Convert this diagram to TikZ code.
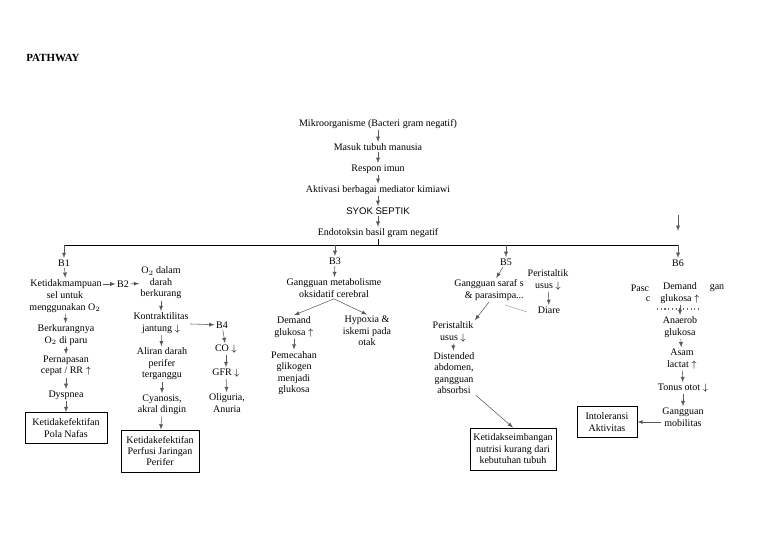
\documentclass[tikz,border=0pt]{standalone}
\usepackage{fontspec}
\setmainfont{Liberation Serif}
\newfontfamily\sansfont{Liberation Sans}
\usetikzlibrary{positioning}
\usetikzlibrary{calc}

\begin{document}
\begin{tikzpicture}[x=0.75pt,y=-0.75pt,font={\fontsize{7.5}{8.6}\selectfont},node distance=1cm]

	\tikzstyle{arrow}=[-latex,black!65,line width=0.4pt];
	\tikzstyle{plain}=[draw=black!35,line width=0.4pt];
	\tikzstyle{txt}=[align=center,inner sep=1pt];
	\tikzstyle{box}=[draw,align=center,inner sep=2pt,line width=0.6pt];

	\useasboundingbox (0,0) rectangle (768,543);

	\node (1) [txt,font={\fontsize{8.2}{10}\selectfont\bfseries}] at (53,58) {PATHWAY};

	% top chain
	\node (2) [txt] at (378,124) {Mikroorganisme (Bacteri gram negatif)};
	\node (3) [txt] at (378,147) {Masuk tubuh manusia};
	\node (4) [txt] at (378,169) {Respon imun};
	\node (5) [txt] at (378,190) {Aktivasi berbagai mediator kimiawi};
	\node (6) [txt,font={\sansfont\fontsize{7.2}{8.6}\selectfont}] at (378,211) {SYOK SEPTIK};
	\node (7) [txt] at (378,233) {Endotoksin basil gram negatif};

	\coordinate (h0) at (378,245);
	\coordinate (h1) at (64,245);
	\coordinate (h3) at (335,245);
	\coordinate (h5) at (506,245);
	\coordinate (h6) at (678,245);
	\coordinate (d1) at (678,215);
	\coordinate (d2) at (678,231);

	% B1
	\node (8) [txt] at (64,263) {B1};
	\node (9) [txt] at (66,284) {Ketidakmampuan};
	\node (10) [txt] at (65,302) {sel untuk\\menggunakan O$_2$};
	\node (11) [txt] at (66,335) {Berkurangnya\\O$_2$ di paru};
	\node (12) [txt] at (66,366) {Pernapasan\\cepat / RR $\uparrow$};
	\node (13) [txt] at (66,395) {Dyspnea};
	\node (14) [box,minimum width=61.5pt,minimum height=23pt] at (66,428) {Ketidakefektifan\\Pola Nafas};

	% B2
	\node (15) [txt] at (123,284) {B2};
	\node (16) [txt] at (161,283) {O$_2$ dalam\\darah\\berkurang};
	\node (17) [txt] at (161,323) {Kontraktilitas\\jantung $\downarrow$};
	\node (18) [txt] at (162,364) {Aliran darah\\perifer\\terganggu};
	\node (19) [txt] at (162,405) {Cyanosis,\\akral dingin};
	\node (20) [box,minimum width=58.5pt,minimum height=31.5pt] at (160,451) {Ketidakefektifan\\Perfusi Jaringan\\Perifer};

	% B4
	\node (21) [txt] at (222,325) {B4};
	\node (22) [txt] at (226,349) {CO $\downarrow$};
	\node (23) [txt] at (226,373) {GFR $\downarrow$};
	\node (24) [txt] at (227,403) {Oliguria,\\Anuria};

	% B3
	\node (25) [txt] at (335,261) {B3};
	\node (26) [txt] at (334,288) {Gangguan metabolisme\\oksidatif cerebral};
	\node (27) [txt] at (294,327) {Demand\\glukosa $\uparrow$};
	\node (28) [txt] at (294,373) {Pemecahan\\glikogen\\menjadi\\glukosa};
	\node (29) [txt] at (367,331) {Hypoxia \&\\iskemi pada\\otak};

	% B5
	\node (30) [txt] at (506,262) {B5};
	\node (31) [txt,align=right] at (489,290) {Gangguan saraf s\\\& parasimpa...};
	\node (32) [txt] at (548,280) {Peristaltik\\usus $\downarrow$};
	\node (33) [txt] at (549,310) {Diare};
	\node (34) [txt] at (453,332) {Peristaltik\\usus $\downarrow$};
	\node (35) [txt] at (454,373) {Distended\\abdomen,\\gangguan\\absorbsi};
	\node (36) [box,minimum width=64.5pt,minimum height=31.5pt] at (513,449) {Ketidakseimbangan\\nutrisi kurang dari\\kebutuhan tubuh};
	\coordinate (c5) at (527,312);

	% B6
	\node (37) [txt] at (678,263) {B6};
	\node (38) [txt] at (640,288) {Pasc};
	\node (39) [txt] at (648,299) {c};
	\node (40) [txt] at (717,288) {gan};
	\node (41) [txt] at (680,293) {Demand\\glukosa $\uparrow$};
	\coordinate (d3) at (657,309);
	\coordinate (d4) at (701,309);
	\node (42) [txt] at (680,327) {Anaerob\\glukosa};
	\node (43) [txt] at (682,359) {Asam\\lactat $\uparrow$};
	\node (44) [txt] at (683,388) {Tonus otot $\downarrow$};
	\node (45) [txt] at (683,417) {Gangguan\\mobilitas};
	\node (46) [box,minimum width=45pt,minimum height=23pt] at (607,422) {Intoleransi\\Aktivitas};

	\draw[line width=0.7pt] (7) -- (h0);
	\draw[line width=0.7pt] (h1) -- (h6);
	\draw[dotted,line width=0.8pt,black!60] (d3) -- (d4);

	\path[arrow]
		(2) edge (3)
		(3) edge (4)
		(4) edge (5)
		(5) edge (6)
		(6) edge (7)
		(d1) edge (d2)
		(h1) edge (8)
		(h3) edge (25)
		(h5) edge (30)
		(h6) edge (37);
	\path[arrow]
		(8) edge (9)
		(9) edge (15)
		(15) edge (16)
		(10) edge (11)
		(11) edge (12)
		(12) edge (13)
		(13) edge (14)
		(16) edge (17)
		(17) edge (21)
		(17) edge (18)
		(18) edge (19)
		(19) edge (20)
		(21) edge (22)
		(22) edge (23)
		(23) edge (24);
	\path[arrow]
		(25) edge (26)
		(26.south) edge (27.north)
		(26.south) edge (29.north)
		(27) edge (28);
	\path[arrow]
		(30) edge (31)
		(32) edge (33)
		(31.south) edge (34.north east)
		(34) edge (35)
		(35.south east) edge (36.north);
	\draw[plain] ($(31.south)+(16,3)$) -- (c5);
	\path[arrow]
		(41) edge (42)
		(42) edge (43)
		(43) edge (44)
		(44) edge (45)
		(45.west|-46) edge (46);
\end{tikzpicture}
\end{document}
